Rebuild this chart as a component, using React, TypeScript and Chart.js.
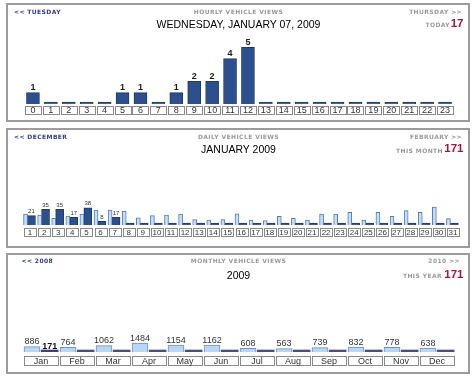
import { useEffect, useRef } from "react";
import { Chart, registerables } from "chart.js";

Chart.register(...registerables);

// ---------------- data ----------------
const hourLabels = ["0", "1", "2", "3", "4", "5", "6", "7", "8", "9", "10", "11", "12", "13", "14", "15", "16", "17", "18", "19", "20", "21", "22", "23"];
const hourlyViews = [1, 0, 0, 0, 0, 1, 1, 0, 1, 2, 2, 4, 5, 0, 0, 0, 0, 0, 0, 0, 0, 0, 0, 0];

const dayLabels = ["1", "2", "3", "4", "5", "6", "7", "8", "9", "10", "11", "12", "13", "14", "15", "16", "17", "18", "19", "20", "21", "22", "23", "24", "25", "26", "27", "28", "29", "30", "31"];
const dailyViewsThisMonth = [21, 35, 35, 17, 38, 8, 17, 0, 0, 0, 0, 0, 0, 0, 0, 0, 0, 0, 0, 0, 0, 0, 0, 0, 0, 0, 0, 0, 0, 0, 0];
const dailyViewsLastMonth = [24, 22, 15, 20, 24, 33, 33, 31, 16, 21, 22, 24, 12, 11, 12, 25, 11, 10, 19, 15, 11, 24, 24, 28, 11, 28, 19, 32, 28, 40, 14];

const monthLabels = ["Jan", "Feb", "Mar", "Apr", "May", "Jun", "Jul", "Aug", "Sep", "Oct", "Nov", "Dec"];
const monthlyViewsThisYear = [171, 0, 0, 0, 0, 0, 0, 0, 0, 0, 0, 0];
const monthlyViewsLastYear = [886, 764, 1062, 1484, 1154, 1162, 608, 563, 739, 832, 778, 638];

// ---------------- chart builder ----------------
type ValueLabel = { font: string; color: string; showZero: boolean; gap: number };
type Series = {
  values: number[];
  offset: number;
  thickness: number;
  fill: string;
  zeroFill: string;
  border: string;
  borderWidth: number;
  label: ValueLabel | null;
};
type Spec = {
  labels: string[];
  first: number;
  yMax: number;
  padding: { left: number; right: number; top: number; bottom: number };
  series: Series[];
  box: { top: number; height: number; width: number; font: string };
};

const FONT = '"Liberation Sans", Arial, sans-serif';

function build(canvas: HTMLCanvasElement, spec: Spec) {
  const n = spec.labels.length;
  const plugin = {
    id: "boxesAndLabels",
    afterDatasetsDraw(chart: any) {
      const { ctx, chartArea, scales } = chart;
      const xs = scales.x;
      ctx.save();
      spec.labels.forEach((lab, i) => {
        const cx = xs.getPixelForValue(spec.first + i);
        const left = Math.round(cx - spec.box.width / 2) + 0.5;
        const top = Math.round(chartArea.bottom + spec.box.top) + 0.5;
        ctx.fillStyle = "#ffffff";
        ctx.fillRect(left, top, spec.box.width, spec.box.height);
        ctx.strokeStyle = "#8a8a8a";
        ctx.lineWidth = 1;
        ctx.strokeRect(left, top, spec.box.width, spec.box.height);
        ctx.fillStyle = "#333333";
        ctx.font = spec.box.font;
        ctx.textAlign = "center";
        ctx.textBaseline = "middle";
        ctx.fillText(lab, cx, top + spec.box.height / 2 + 0.5);
      });
      spec.series.forEach((s, di) => {
        if (!s.label) return;
        const meta = chart.getDatasetMeta(di);
        ctx.font = s.label.font;
        ctx.fillStyle = s.label.color;
        ctx.textAlign = "center";
        ctx.textBaseline = "alphabetic";
        meta.data.forEach((el: any, i: number) => {
          const v = s.values[i];
          if (!v && !s.label!.showZero) return;
          ctx.fillText(String(v), el.x, el.y - s.label!.gap);
        });
      });
      ctx.restore();
    },
  };

  return new Chart(canvas, {
    type: "bar",
    data: {
      datasets: spec.series.map((s) => ({
        data: s.values.map((v, i) => ({ x: spec.first + i + s.offset, y: v })),
        barThickness: s.thickness,
        grouped: false,
        minBarLength: 2,
        borderWidth: s.borderWidth,
        borderColor: s.border,
        backgroundColor: (c: any) => (c.raw && c.raw.y === 0 ? s.zeroFill : s.fill),
      })),
    } as any,
    options: {
      animation: false,
      responsive: false,
      events: [],
      layout: { padding: spec.padding },
      plugins: { legend: { display: false }, tooltip: { enabled: false }, title: { display: false } },
      scales: {
        x: { type: "linear", display: false, offset: false, min: spec.first - 0.5, max: spec.first + n - 0.5 },
        y: { display: false, min: 0, max: spec.yMax },
      },
    } as any,
    plugins: [plugin],
  });
}

const DARK = "#2c4f8d";
const DARK_BORDER = "#1e3a6c";

const hourlySpec: Spec = {
  labels: hourLabels,
  first: 0,
  yMax: 6,
  padding: { left: 24, right: 20, top: 36, bottom: 273 },
  box: { top: 2, height: 8, width: 16, font: `9px ${FONT}` },
  series: [
    {
      values: hourlyViews,
      offset: 0,
      thickness: 13,
      fill: DARK,
      zeroFill: "#55607f",
      border: DARK_BORDER,
      borderWidth: 1,
      label: { font: `bold 9px ${FONT}`, color: "#1a1a1a", showZero: false, gap: 2.5 },
    },
  ],
};

const dailySpec: Spec = {
  labels: dayLabels,
  first: 1,
  yMax: 60,
  padding: { left: 23, right: 14, top: 198, bottom: 152 },
  box: { top: 3, height: 8, width: 12, font: `8px ${FONT}` },
  series: [
    {
      values: dailyViewsLastMonth,
      offset: -0.32,
      thickness: 4,
      fill: "#c7def5",
      zeroFill: "#c7def5",
      border: "#4f7dbd",
      borderWidth: 1,
      label: null,
    },
    {
      values: dailyViewsThisMonth,
      offset: 0.1,
      thickness: 8,
      fill: DARK,
      zeroFill: "#4a5580",
      border: DARK_BORDER,
      borderWidth: 1,
      label: { font: `6px ${FONT}`, color: "#333333", showZero: false, gap: 2.5 },
    },
  ],
};

const monthlySpec: Spec = {
  labels: monthLabels,
  first: 0,
  yMax: 4000,
  padding: { left: 23, right: 19, top: 328, bottom: 25 },
  box: { top: 4, height: 9, width: 34, font: `9px ${FONT}` },
  series: [
    {
      values: monthlyViewsLastYear,
      offset: -0.25,
      thickness: 16,
      fill: "#b9d6f2",
      zeroFill: "#b9d6f2",
      border: "#6d93c6",
      borderWidth: 1,
      label: { font: `9px ${FONT}`, color: "#333333", showZero: false, gap: 2.5 },
    },
    {
      values: monthlyViewsThisYear,
      offset: 0.24,
      thickness: 17,
      fill: "#3e4373",
      zeroFill: "#4a4f7c",
      border: "#3e4373",
      borderWidth: 0,
      label: { font: `bold 9px ${FONT}`, color: "#111111", showZero: false, gap: 1.5 },
    },
  ],
};

// ---------------- text helpers ----------------
const small: any = {
  fontFamily: '"DejaVu Sans", Verdana, sans-serif',
  fontWeight: "bold",
  fontSize: 6,
  letterSpacing: 0.4,
  color: "#9a9a9a",
};
const nav: any = { ...small, color: "#34407a" };
const title: any = { fontFamily: FONT, fontSize: 10.5, color: "#000" };
const big: any = { fontFamily: FONT, fontSize: 11.5, fontWeight: "bold", color: "#a3173f" };

function T({ x, y, anchor = "start", style, children }: any) {
  const tx = anchor === "middle" ? "-50%" : anchor === "end" ? "-100%" : "0";
  return (
    <div
      style={{
        position: "absolute",
        left: x,
        top: y,
        transform: `translate(${tx}, -50%)`,
        whiteSpace: "nowrap",
        lineHeight: 1,
        ...style,
      }}
    >
      {children}
    </div>
  );
}

function Panel({ top, height }: { top: number; height: number }) {
  return (
    <div
      style={{
        position: "absolute",
        left: 6,
        top,
        width: 464,
        height,
        boxSizing: "border-box",
        border: "2px solid #9c9c9c",
        background: "#fff",
      }}
    />
  );
}

export default function App() {
  const r1 = useRef<HTMLCanvasElement>(null);
  const r2 = useRef<HTMLCanvasElement>(null);
  const r3 = useRef<HTMLCanvasElement>(null);

  useEffect(() => {
    const charts = [build(r1.current!, hourlySpec), build(r2.current!, dailySpec), build(r3.current!, monthlySpec)];
    return () => charts.forEach((c) => c.destroy());
  }, []);

  const cv: any = { position: "absolute", left: 0, top: 0, width: 474, height: 377 };

  return (
    <div style={{ position: "fixed", left: 0, top: 0, width: 474, height: 377, background: "#fff", overflow: "hidden" }}>
      <Panel top={3} height={119} />
      <Panel top={128} height={120} />
      <Panel top={253} height={121} />
      <canvas ref={r1} width={474} height={377} style={cv} />
      <canvas ref={r2} width={474} height={377} style={cv} />
      <canvas ref={r3} width={474} height={377} style={cv} />

      {/* hourly */}
      <T x={14} y={12} style={nav}>{"<< TUESDAY"}</T>
      <T x={238.5} y={12} anchor="middle" style={small}>HOURLY VEHICLE VIEWS</T>
      <T x={462} y={12} anchor="end" style={small}>{"THURSDAY >>"}</T>
      <T x={238.5} y={24} anchor="middle" style={title}>WEDNESDAY, JANUARY 07, 2009</T>
      <T x={450} y={25} anchor="end" style={small}>TODAY</T>
      <T x={463.5} y={23.5} anchor="end" style={big}>17</T>

      {/* daily */}
      <T x={14} y={137} style={nav}>{"<< DECEMBER"}</T>
      <T x={238.5} y={137} anchor="middle" style={small}>DAILY VEHICLE VIEWS</T>
      <T x={462} y={137} anchor="end" style={small}>{"FEBRUARY >>"}</T>
      <T x={238.5} y={149} anchor="middle" style={title}>JANUARY 2009</T>
      <T x={443} y={150.5} anchor="end" style={small}>THIS MONTH</T>
      <T x={463.5} y={149} anchor="end" style={big}>171</T>

      {/* monthly */}
      <T x={21.5} y={261} style={nav}>{"<< 2008"}</T>
      <T x={238.5} y={261} anchor="middle" style={small}>MONTHLY VEHICLE VIEWS</T>
      <T x={460} y={261} anchor="end" style={small}>{"2010 >>"}</T>
      <T x={238.5} y={275} anchor="middle" style={title}>2009</T>
      <T x={442} y={276} anchor="end" style={small}>THIS YEAR</T>
      <T x={463.5} y={275} anchor="end" style={big}>171</T>
    </div>
  );
}
